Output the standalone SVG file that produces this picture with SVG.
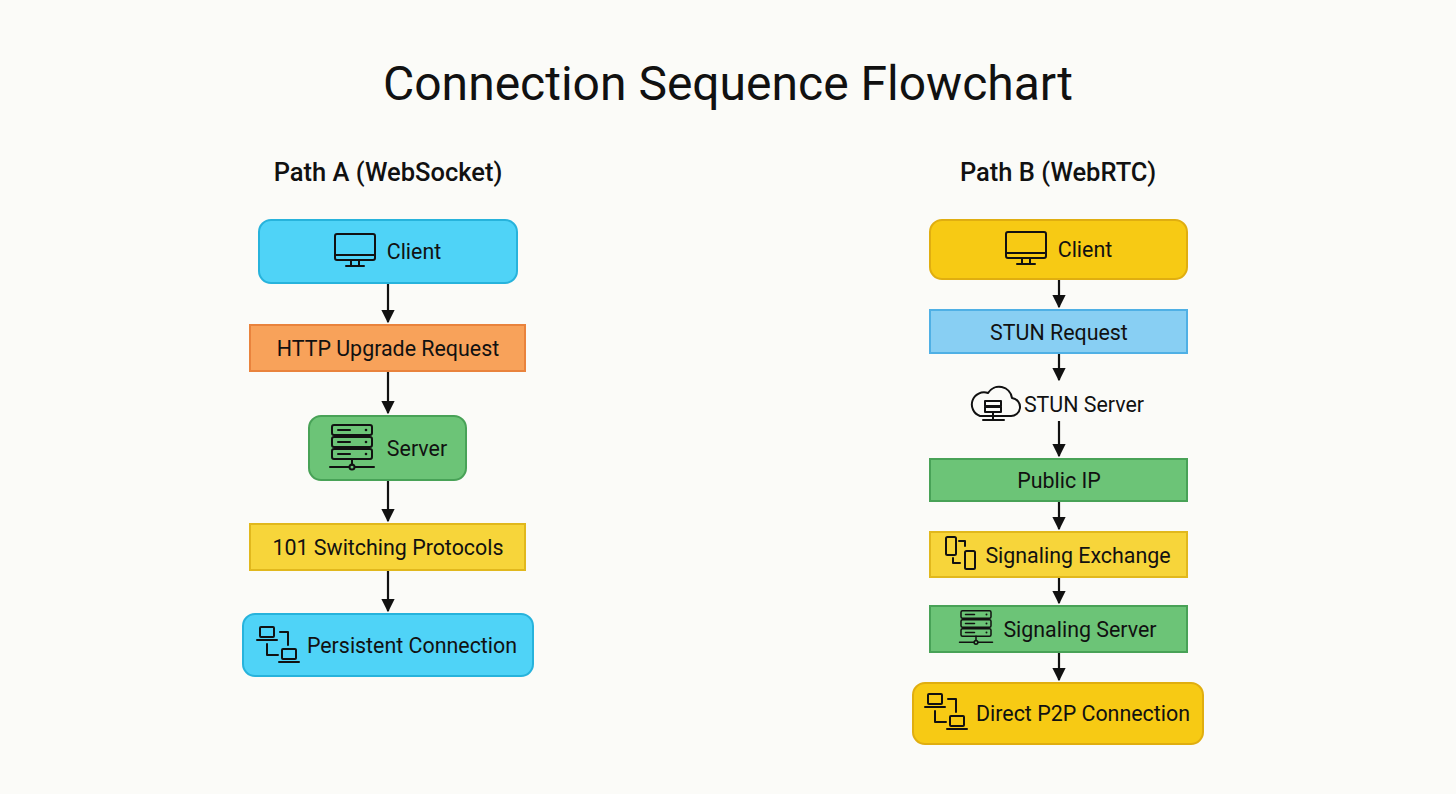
<svg xmlns="http://www.w3.org/2000/svg" width="1456" height="794" viewBox="0 0 1456 794">
<defs>
<style>
text{font-family:Roboto,"Liberation Sans",sans-serif;fill:#111}
.t{font-size:21.4px;text-anchor:middle;dominant-baseline:central}
.ic{fill:none;stroke:#111;stroke-width:2;stroke-linecap:round;stroke-linejoin:round}
.blue{fill:#4fd3f7;stroke:#27b3dc;stroke-width:2}
.orange{fill:#f8a25a;stroke:#e9833d;stroke-width:2}
.green{fill:#6cc477;stroke:#48a257;stroke-width:2}
.yellow{fill:#f7d53a;stroke:#e1b81d;stroke-width:2}
.gold{fill:#f7ca14;stroke:#e0ae10;stroke-width:2}
.lblue{fill:#88cff3;stroke:#4fb0e5;stroke-width:2}
.c line{stroke:#111;stroke-width:2.2}
</style>
<marker id="ah" viewBox="0 0 10 10" refX="9" refY="5" markerWidth="6" markerHeight="6" orient="auto"><path d="M0,0L10,5L0,10z" fill="#111"/></marker>
<symbol id="mon" viewBox="0 0 44 36"><rect class="ic" x="2" y="2" width="40" height="26" rx="2"/><line class="ic" x1="2" y1="23" x2="42" y2="23"/><line class="ic" x1="18" y1="28" x2="18" y2="34"/><line class="ic" x1="26" y1="28" x2="26" y2="34"/><line class="ic" x1="13" y1="34" x2="31" y2="34"/></symbol>
<symbol id="srv" viewBox="0 0 48 50"><rect class="ic" x="4" y="2" width="40" height="10" rx="2"/><rect class="ic" x="4" y="14" width="40" height="10" rx="2"/><rect class="ic" x="4" y="26" width="40" height="10" rx="2"/><line class="ic" x1="10" y1="7" x2="22" y2="7"/><line class="ic" x1="10" y1="19" x2="22" y2="19"/><line class="ic" x1="10" y1="31" x2="22" y2="31"/><circle cx="38" cy="7" r="1.3" fill="#111"/><circle cx="38" cy="19" r="1.3" fill="#111"/><circle cx="38" cy="31" r="1.3" fill="#111"/><line class="ic" x1="24" y1="36" x2="24" y2="42"/><circle class="ic" cx="24" cy="44" r="2.5"/><line class="ic" x1="2" y1="44" x2="21" y2="44"/><line class="ic" x1="27" y1="44" x2="46" y2="44"/></symbol>
<symbol id="net" viewBox="0 0 44 40"><rect class="ic" x="4" y="2" width="14" height="10" rx="1"/><line class="ic" x1="1" y1="15" x2="21" y2="15"/><rect class="ic" x="26" y="24" width="14" height="10" rx="1"/><line class="ic" x1="23" y1="37" x2="43" y2="37"/><path class="ic" d="M11 19V30H22M24 7H32V20"/></symbol>
</defs>
<rect width="1456" height="794" fill="#fbfbf8"/>
<text x="728" y="83" font-size="48" text-anchor="middle" dominant-baseline="central">Connection Sequence Flowchart</text>
<text x="388" y="172" font-size="25.5" font-weight="500" text-anchor="middle" dominant-baseline="central">Path A (WebSocket)</text>
<text x="1058" y="172" font-size="25.5" font-weight="500" text-anchor="middle" dominant-baseline="central">Path B (WebRTC)</text>
<g class="c" id="connectors">
<line x1="388" y1="283" x2="388" y2="322" marker-end="url(#ah)"/>
<line x1="388" y1="371" x2="388" y2="413" marker-end="url(#ah)"/>
<line x1="388" y1="480" x2="388" y2="521" marker-end="url(#ah)"/>
<line x1="388" y1="570" x2="388" y2="611" marker-end="url(#ah)"/>
<line x1="1059" y1="279" x2="1059" y2="307" marker-end="url(#ah)"/>
<line x1="1059" y1="353" x2="1059" y2="380" marker-end="url(#ah)"/>
<line x1="1059" y1="421" x2="1059" y2="456" marker-end="url(#ah)"/>
<line x1="1059" y1="501" x2="1059" y2="529" marker-end="url(#ah)"/>
<line x1="1059" y1="577" x2="1059" y2="603" marker-end="url(#ah)"/>
<line x1="1059" y1="652" x2="1059" y2="680" marker-end="url(#ah)"/>
</g>
<g id="a-client"><rect class="blue" x="259" y="220" width="258" height="63" rx="12"/><use href="#mon" x="333" y="232" width="44" height="36"/><text class="t" x="414" y="251">Client</text></g>
<g id="a-http"><rect class="orange" x="250" y="325" width="275" height="46"/><text class="t" x="388" y="348">HTTP Upgrade Request</text></g>
<g id="a-server"><rect class="green" x="309" y="416" width="157" height="64" rx="12"/><use href="#srv" x="328" y="423" width="48" height="50"/><text class="t" x="417" y="448">Server</text></g>
<g id="a-101"><rect class="yellow" x="250" y="524" width="275" height="46"/><text class="t" x="388" y="547">101 Switching Protocols</text></g>
<g id="a-persist"><rect class="blue" x="243" y="614" width="290" height="62" rx="12"/><use href="#net" x="256" y="625" width="44" height="40"/><text class="t" x="412" y="645">Persistent Connection</text></g>

<g id="b-client"><rect class="gold" x="930" y="220" width="257" height="59" rx="12"/><use href="#mon" x="1004" y="230" width="44" height="36"/><text class="t" x="1085" y="249">Client</text></g>
<g id="b-stunreq"><rect class="lblue" x="930" y="310" width="257" height="43"/><text class="t" x="1059" y="332">STUN Request</text></g>
<g id="b-stunsrv"><path class="ic" d="M980 416H1010A9 9 0 0 0 1012 398A13 13 0 0 0 988 393A10 10 0 0 0 980 416Z" stroke-width="1.6"/><rect class="ic" x="985" y="401" width="16" height="5" stroke-width="1.4"/><rect class="ic" x="985" y="407" width="16" height="5" stroke-width="1.4"/><line class="ic" x1="993" y1="412" x2="993" y2="419" stroke-width="1.4"/><line class="ic" x1="983" y1="420" x2="1004" y2="420" stroke-width="1.4"/><text class="t" x="1084" y="404">STUN Server</text></g>
<g id="b-publicip"><rect class="green" x="930" y="459" width="257" height="42"/><text class="t" x="1059" y="480">Public IP</text></g>
<g id="b-sigex"><rect class="yellow" x="930" y="532" width="257" height="45" fill="#f7cf20"/><rect class="ic" x="946" y="537" width="10" height="18" rx="1.5" stroke-width="1.6"/><rect class="ic" x="965" y="551" width="10" height="18" rx="1.5" stroke-width="1.6"/><path class="ic" d="M959 541H965V546M953 558V563H960" stroke-width="1.6"/><text class="t" x="1078" y="555">Signaling Exchange</text></g>
<g id="b-sigsrv"><rect class="green" x="930" y="606" width="257" height="46"/><use href="#srv" x="958" y="609" width="36" height="38"/><text class="t" x="1080" y="629">Signaling Server</text></g>
<g id="b-p2p"><rect class="gold" x="913" y="683" width="290" height="61" rx="12"/><use href="#net" x="924" y="692" width="44" height="40"/><text class="t" x="1083" y="713">Direct P2P Connection</text></g>
</svg>
